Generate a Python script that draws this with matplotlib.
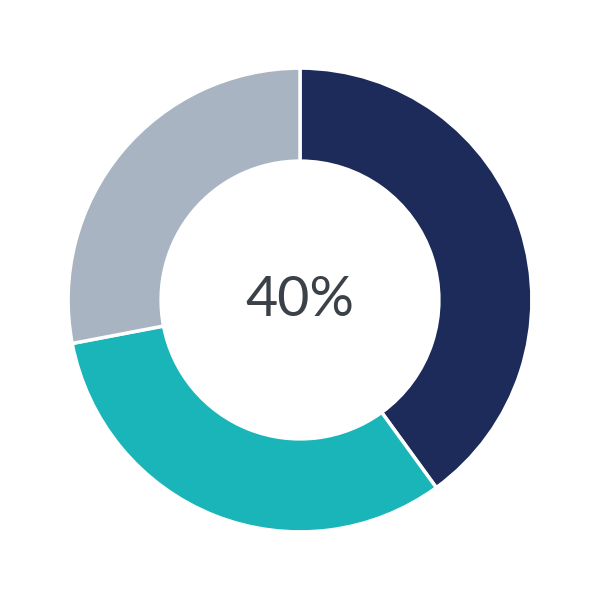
import matplotlib
matplotlib.use("Agg")
import matplotlib.pyplot as plt

labels = ["Navy", "Teal", "Gray"]
values = [40, 32, 28]
colors = ["#1c2b5a", "#1ab5b8", "#a9b4c2"]
center_label = "40%"

fig = plt.figure(figsize=(6, 6), dpi=100)
ax = fig.add_axes([0, 0, 1, 1])
ax.pie(values, colors=colors, startangle=90, counterclock=False, radius=0.773,
       wedgeprops=dict(width=0.31, edgecolor="white", linewidth=2.5))
ax.text(0, 0, center_label, ha="center", va="center", fontsize=40,
        family="Lato", fontweight="normal", color="#3b4148")
ax.set_xlim(-1, 1)
ax.set_ylim(-1, 1)
ax.set_aspect("equal")
ax.axis("off")
fig.savefig("out.png", dpi=100, facecolor="white")
